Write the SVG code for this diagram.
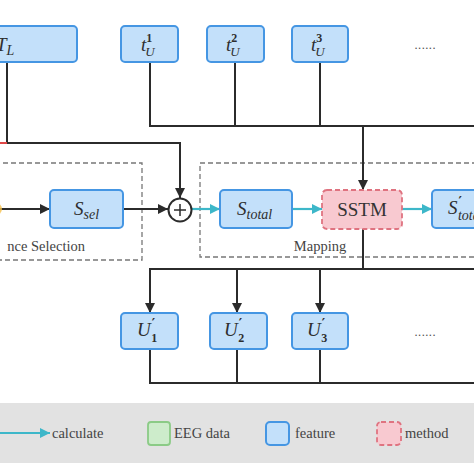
<svg xmlns="http://www.w3.org/2000/svg" width="474" height="474" viewBox="0 0 474 474">
<defs>
<marker id="ab" viewBox="0 0 10 10" refX="10" refY="5" markerWidth="10" markerHeight="10" markerUnits="userSpaceOnUse" orient="auto"><path d="M0,0 L10,5 L0,10 z" fill="#2b2b2b"/></marker>
<marker id="ac" viewBox="0 0 10 10" refX="10" refY="5" markerWidth="10" markerHeight="10" markerUnits="userSpaceOnUse" orient="auto"><path d="M0,0 L10,5 L0,10 z" fill="#3db7c9"/></marker>
</defs>
<style>
.feat{fill:#c3e0fa;stroke:#4596e3;stroke-width:2}
.meth{fill:#f8c9d0;stroke:#df7380;stroke-width:1.8;stroke-dasharray:5 3}
.eeg{fill:#cdeccb;stroke:#8bcb86;stroke-width:1.8}
.ln{fill:none;stroke:#2b2b2b;stroke-width:2}
.cy{fill:none;stroke:#3db7c9;stroke-width:2.2}
.dash{fill:none;stroke:#777;stroke-width:1.3;stroke-dasharray:5 3}
.m{font-family:"Liberation Serif",serif;font-style:italic;font-size:19px;fill:#2e2e2e}
.t{font-family:"Liberation Serif",serif;font-size:14.5px;fill:#444}
.pr{font-family:"DejaVu Serif",serif;font-style:normal;font-size:13px;font-weight:bold}
.sb{font-style:normal;font-weight:bold;font-size:12px}
</style>
<rect x="0" y="0" width="474" height="474" fill="#fff"/>
<rect x="-5" y="163" width="147" height="97" class="dash"/>
<rect x="200" y="163" width="290" height="94" class="dash"/>
<text class="t" x="85" y="251" text-anchor="end" font-size="15">nce Selection</text>
<text class="t" x="320" y="251" text-anchor="middle" font-size="13.5">Mapping</text>
<g id="connectors">
<path class="ln" d="M7,62 V143 H180 V198" marker-end="url(#ab)"/>
<path d="M0,143 H7" stroke="#e04848" stroke-width="2"/>
<path class="ln" d="M150,62 V126 H474"/>
<path class="ln" d="M235,62 V126"/>
<path class="ln" d="M320,62 V126"/>
<path class="ln" d="M363,126 V190" marker-end="url(#ab)"/>
<path class="ln" d="M0,209 H50" marker-end="url(#ab)"/>
<path class="ln" d="M123,209 H168" marker-end="url(#ab)"/>
<path class="cy" d="M192,209 H220" marker-end="url(#ac)"/>
<path class="cy" d="M292,209 H322" marker-end="url(#ac)"/>
<path class="cy" d="M402,209 H432" marker-end="url(#ac)"/>
<path class="ln" d="M363,229 V269"/>
<path class="ln" d="M150,313 V269 H474"/>
<path class="ln" d="M150,269 V313" marker-end="url(#ab)"/>
<path class="ln" d="M237,269 V313" marker-end="url(#ab)"/>
<path class="ln" d="M320,269 V313" marker-end="url(#ab)"/>
<path class="ln" d="M150,349 V383 H474"/>
<path class="ln" d="M237,349 V383"/>
<path class="ln" d="M320,349 V383"/>
</g>
<g id="eeg-partial"><circle cx="-4" cy="209" r="6" fill="#f6c04a" opacity="0.8"/></g>
<g id="TL"><rect x="-20" y="26" width="97" height="36" rx="4" class="feat"/><text class="m" x="-4" y="51">T<tspan font-size="14" dy="4">L</tspan></text></g>
<g id="tU1"><rect x="121" y="26" width="57" height="36" rx="4" class="feat"/><text class="m" x="141" y="51">t<tspan class="sb" dy="-9">1</tspan><tspan font-size="13" dx="-7" dy="14">U</tspan></text></g>
<g id="tU2"><rect x="207" y="26" width="57" height="36" rx="4" class="feat"/><text class="m" x="226" y="51">t<tspan class="sb" dy="-9">2</tspan><tspan font-size="13" dx="-7" dy="14">U</tspan></text></g>
<g id="tU3"><rect x="292" y="26" width="56" height="36" rx="4" class="feat"/><text class="m" x="311" y="51">t<tspan class="sb" dy="-9">3</tspan><tspan font-size="13" dx="-7" dy="14">U</tspan></text></g>
<text x="425" y="49" text-anchor="middle" font-family="Liberation Sans,sans-serif" font-size="13" fill="#555">......</text>
<g id="Ssel"><rect x="50" y="190" width="73" height="38" rx="4" class="feat"/><text class="m" x="74" y="215">S<tspan font-size="14" dy="4">sel</tspan></text></g>
<g id="plus"><circle cx="180" cy="210" r="11.5" fill="#fff" stroke="#2b2b2b" stroke-width="2"/><path d="M174,210 H186 M180,204 V216" stroke="#2b2b2b" stroke-width="1.5"/></g>
<g id="Stotal"><rect x="220" y="190" width="72" height="38" rx="4" class="feat"/><text class="m" x="237" y="215">S<tspan font-size="14" dy="4">total</tspan></text></g>
<g id="SSTM"><rect x="322" y="190" width="80" height="39" rx="5" class="meth"/><text x="362" y="216" text-anchor="middle" font-family="Liberation Serif,serif" font-size="19" fill="#333">SSTM</text></g>
<g id="Sptotal"><rect x="432" y="190" width="60" height="38" rx="4" class="feat"/><text class="m" x="448" y="214">S<tspan class="pr" dx="1" dy="-8">′</tspan><tspan font-size="14" dx="-4" dy="14">total</tspan></text></g>
<g id="U1"><rect x="121" y="313" width="57" height="36" rx="4" class="feat"/><text class="m" x="137" y="336">U<tspan class="pr" dx="1" dy="-8">′</tspan><tspan class="sb" dx="-4" dy="14">1</tspan></text></g>
<g id="U2"><rect x="210" y="313" width="57" height="36" rx="4" class="feat"/><text class="m" x="224" y="336">U<tspan class="pr" dx="1" dy="-8">′</tspan><tspan class="sb" dx="-4" dy="14">2</tspan></text></g>
<g id="U3"><rect x="292" y="313" width="56" height="36" rx="4" class="feat"/><text class="m" x="307" y="336">U<tspan class="pr" dx="1" dy="-8">′</tspan><tspan class="sb" dx="-4" dy="14">3</tspan></text></g>
<text x="425" y="336" text-anchor="middle" font-family="Liberation Sans,sans-serif" font-size="13" fill="#555">......</text>
<g id="legend">
<rect x="0" y="403" width="474" height="60" fill="#e2e2e2"/>
<path class="cy" d="M0,433 H50" marker-end="url(#ac)"/>
<text class="t" x="52" y="438">calculate</text>
<rect x="148" y="422" width="22" height="23" rx="3" class="eeg"/>
<text class="t" x="174" y="438">EEG data</text>
<rect x="266" y="422" width="23" height="23" rx="4" class="feat"/>
<text class="t" x="295" y="438">feature</text>
<rect x="377" y="422" width="24" height="23" rx="4" class="meth"/>
<text class="t" x="405" y="438">method</text>
</g>
</svg>
